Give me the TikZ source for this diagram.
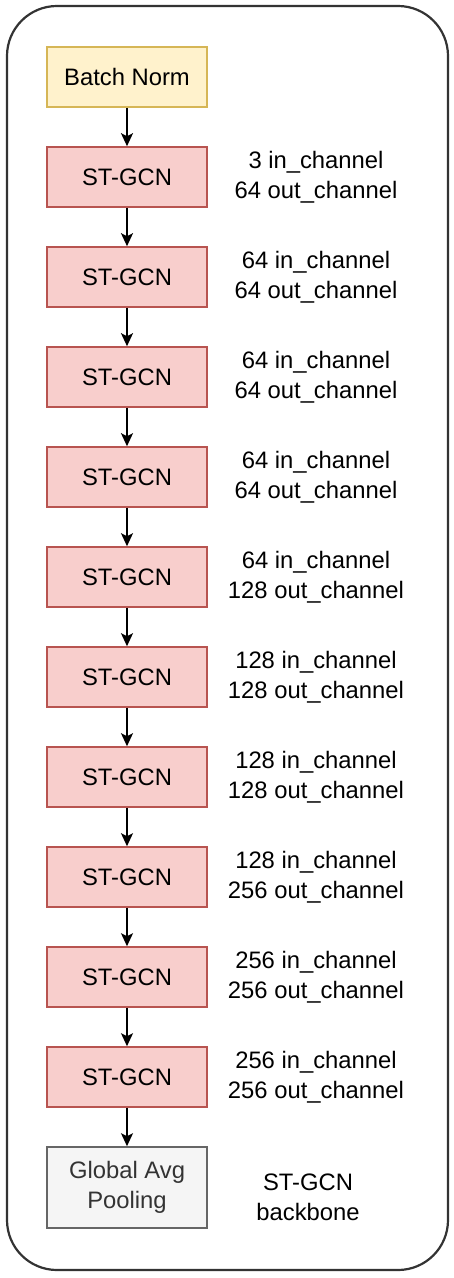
\documentclass[tikz,border=0pt]{standalone}
\usepackage{fontspec}
\setmainfont{Liberation Sans}
\usetikzlibrary{matrix,arrows.meta,positioning}

\definecolor{normfill}{HTML}{FFF2CC}
\definecolor{normline}{HTML}{D6B656}
\definecolor{gcnfill}{HTML}{F8CECC}
\definecolor{gcnline}{HTML}{B85450}
\definecolor{poolfill}{HTML}{F5F5F5}
\definecolor{poolline}{HTML}{666666}
\definecolor{pooltext}{HTML}{333333}
\definecolor{framecol}{HTML}{333333}

\begin{document}
\begin{tikzpicture}[
	every node/.style={font=\fontsize{11.9}{15}\selectfont},
	normbox/.style={draw=normline, fill=normfill, line width=0.8pt, minimum width=80pt, minimum height=30pt, inner sep=0pt},
	gcnbox/.style={normbox, draw=gcnline, fill=gcnfill},
	poolbox/.style={normbox, draw=poolline, fill=poolfill, text=pooltext, minimum height=40.5pt, align=center},
	chan/.style={align=center, inner sep=0pt},
	flow/.style={->, >={Stealth[length=6.5pt, width=6pt, inset=1.5pt]}, line width=0.9pt}
	]
	\useasboundingbox (0,0) rectangle (227pt,-639pt);
	\draw[framecol, line width=1.1pt, rounded corners=25pt] (3.5pt,-3pt) rectangle (224pt,-635pt);
	\matrix (b) [matrix of nodes, row sep=19.2pt, matrix anchor=b-1-1.center] at (63.5pt,-38.5pt)
	{
		|[normbox]| Batch Norm \\
		|[gcnbox]| ST-GCN      \\
		|[gcnbox]| ST-GCN      \\
		|[gcnbox]| ST-GCN      \\
		|[gcnbox]| ST-GCN      \\
		|[gcnbox]| ST-GCN      \\
		|[gcnbox]| ST-GCN      \\
		|[gcnbox]| ST-GCN      \\
		|[gcnbox]| ST-GCN      \\
		|[gcnbox]| ST-GCN      \\
		|[gcnbox]| ST-GCN      \\
	};
	\node[poolbox, below=19.2pt of b-11-1] (pool) {Global Avg\\Pooling};
	% channel sizes beside each block
	\foreach \r/\cin/\cout in {2/3/64, 3/64/64, 4/64/64, 5/64/64, 6/64/128, 7/128/128, 8/128/128, 9/128/256, 10/256/256, 11/256/256}
		\node[chan] (c\r) at (b-\r-1 -| 158pt,0) {\cin\ in\_channel\\\cout\ out\_channel};
	\node[chan] (tag) at ([yshift=-5pt]pool -| 154pt,0) {ST-GCN\\backbone};
	\foreach \i in {1,...,10}{
		\pgfmathtruncatemacro{\j}{\i+1}
		\path[flow] (b-\i-1) edge (b-\j-1);
	}
	\path[flow] (b-11-1) edge (pool);
\end{tikzpicture}
\end{document}
